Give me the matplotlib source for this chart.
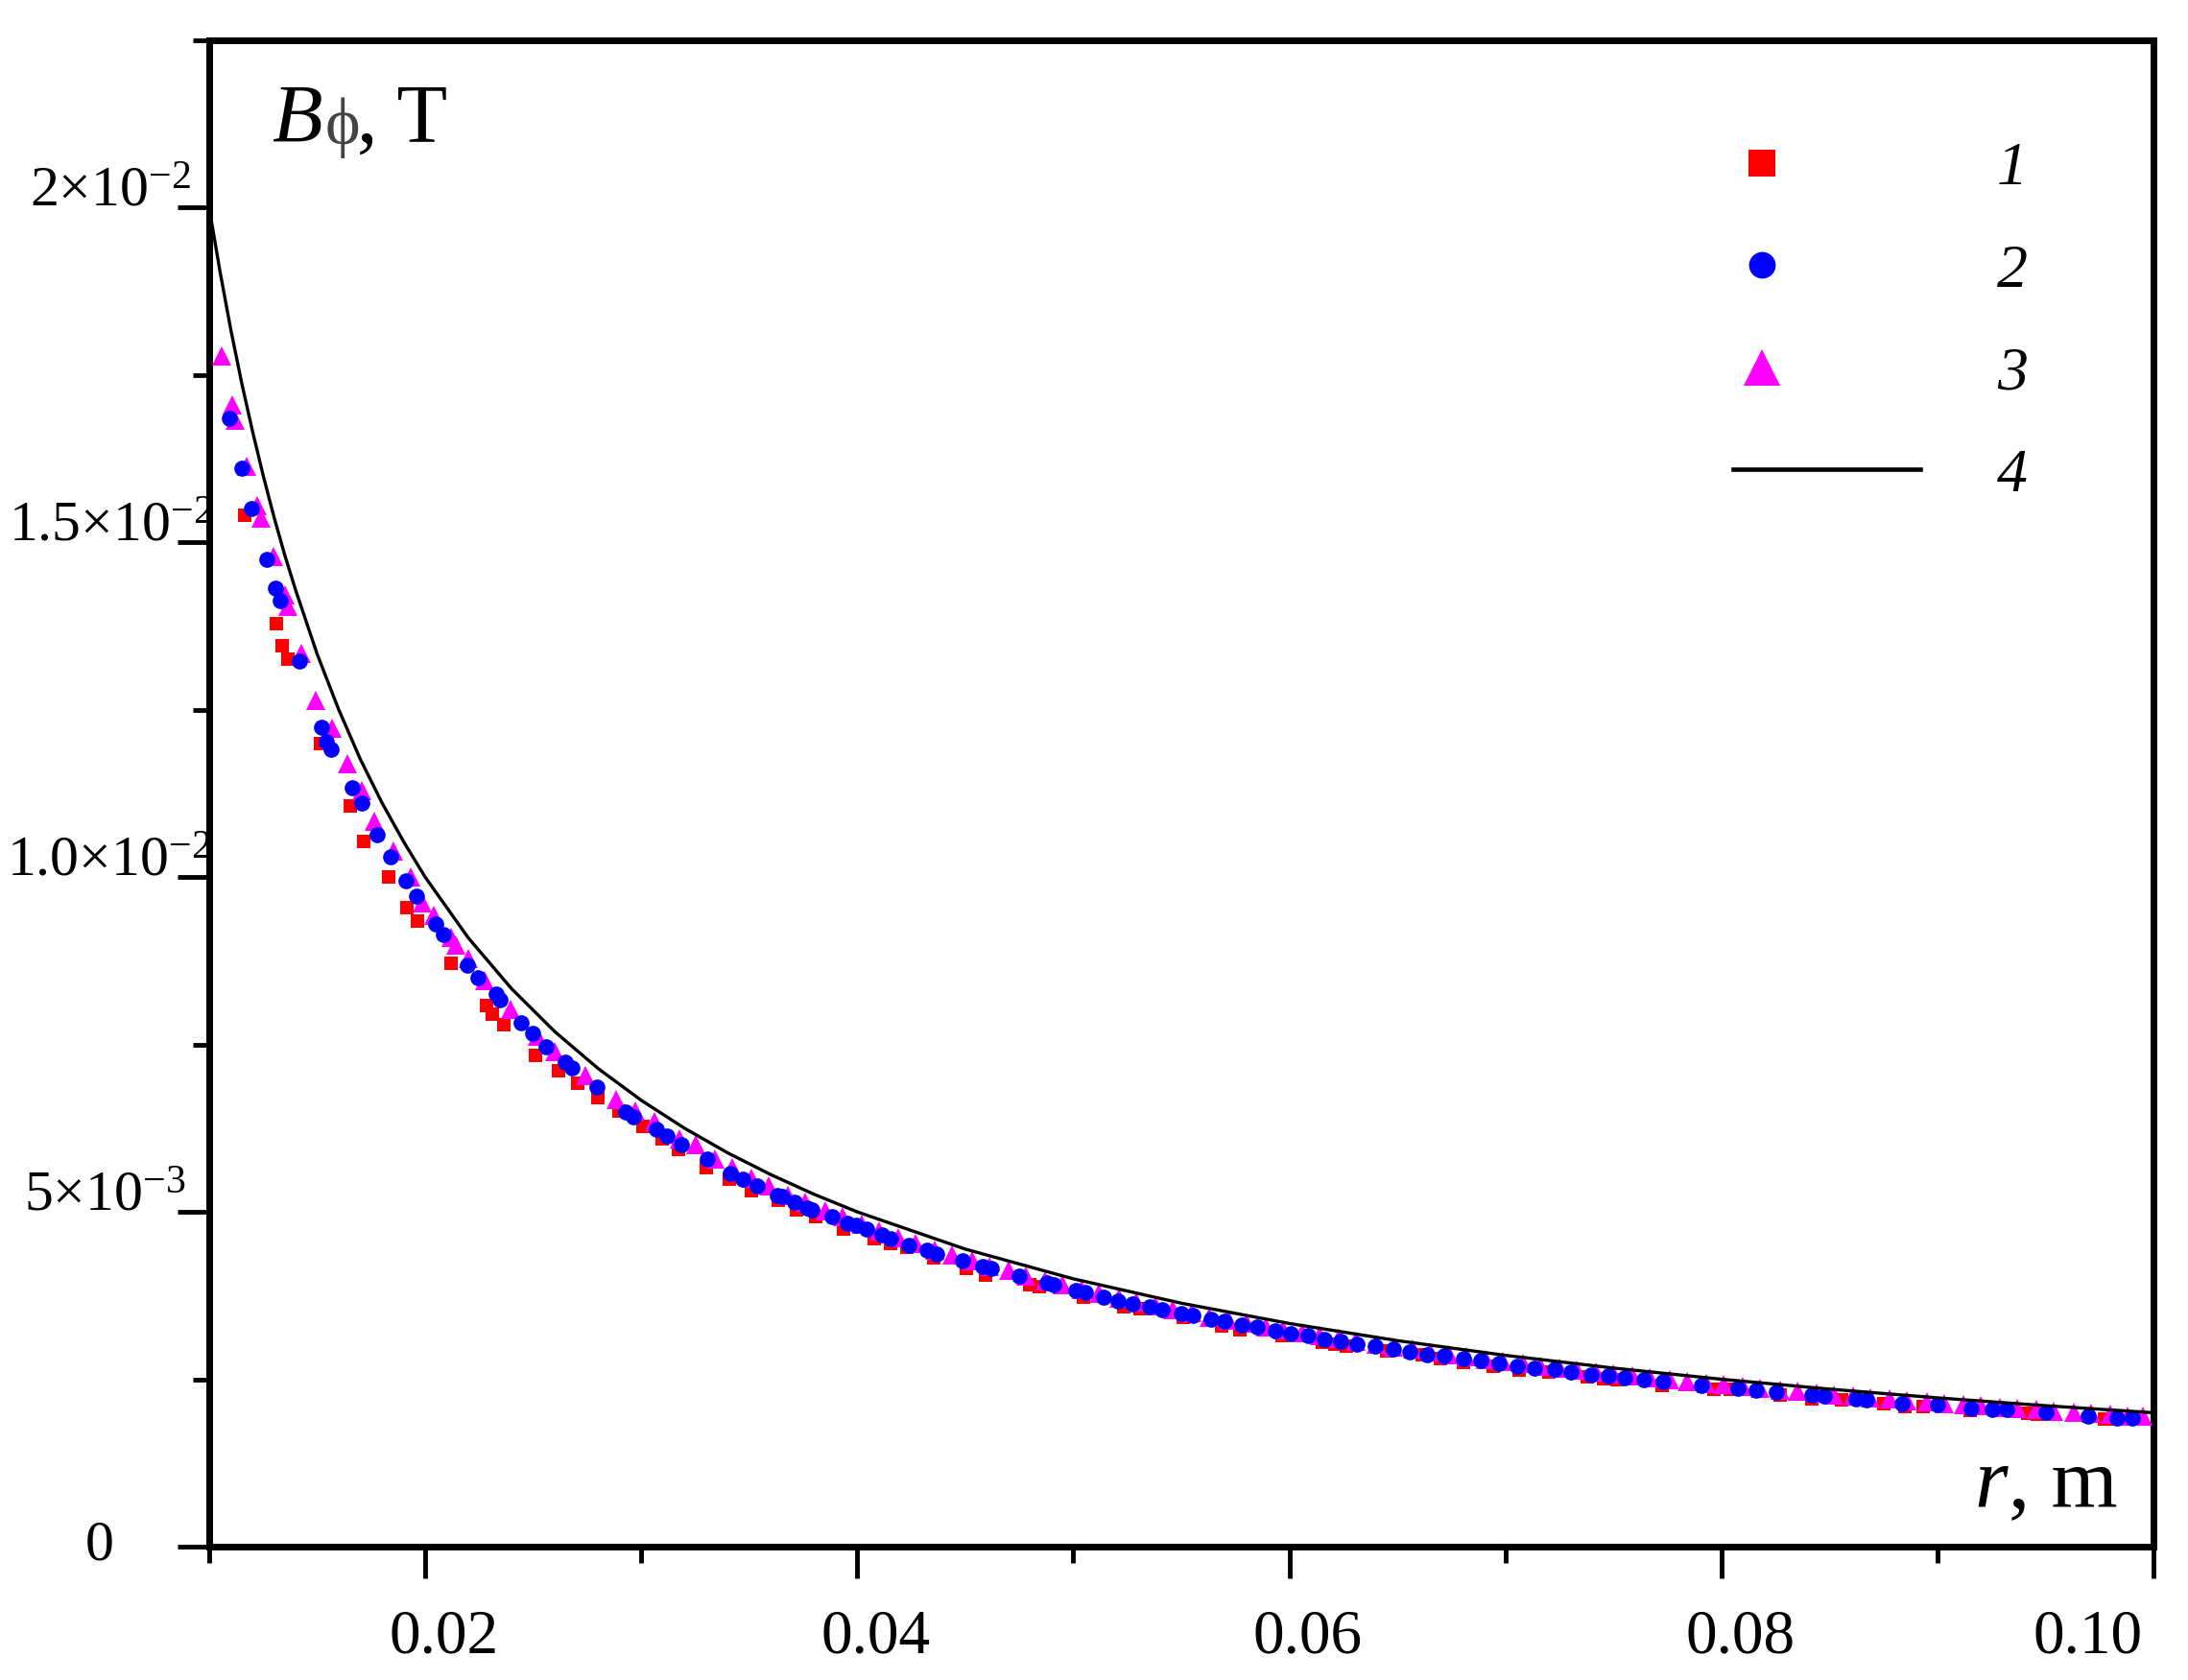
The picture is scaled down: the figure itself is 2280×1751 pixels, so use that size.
import numpy as np
import matplotlib
matplotlib.use("Agg")
import matplotlib.pyplot as plt
from matplotlib.lines import Line2D
from matplotlib.legend_handler import HandlerLine2DCompound
from matplotlib.ticker import MultipleLocator, FixedLocator

plt.rcParams['font.family'] = ['Liberation Serif', 'DejaVu Serif']
plt.rcParams['mathtext.fontset'] = 'custom'
plt.rcParams['mathtext.rm'] = 'Liberation Serif'
plt.rcParams['mathtext.it'] = 'Liberation Serif:italic'

# series 1 (red squares): r in m, B in mT
r1 = [0.01164, 0.01313, 0.01339, 0.01364, 0.01516, 0.01653, 0.01717, 0.01831, 0.01917, 0.01966,
      0.02120, 0.02286, 0.02312, 0.02364, 0.02512, 0.02616, 0.02705, 0.02801, 0.02898, 0.03009,
      0.03098, 0.03172,
      0.03299, 0.03409, 0.03508, 0.03636, 0.03720, 0.03806, 0.03938, 0.04078, 0.04154, 0.04231,
      0.04353, 0.04503, 0.04596, 0.04800, 0.04843, 0.05047, 0.05234, 0.05311, 0.05507, 0.05685,
      0.05770,
      0.05967, 0.06154, 0.06213, 0.06264, 0.06452, 0.06613, 0.06698, 0.06808, 0.06944, 0.07063,
      0.07200, 0.07378, 0.07455, 0.07515, 0.07724, 0.07965, 0.08042, 0.08272,
      0.08417, 0.08557, 0.08754, 0.08849, 0.08932, 0.09152, 0.09420, 0.09461, 0.09773, 0.09815]
B1 = [15.41, 13.78, 13.46, 13.26, 12.00, 11.06, 10.54, 10.01, 9.55, 9.35,
      8.71, 8.08, 7.96, 7.80, 7.34, 7.11, 6.92, 6.71, 6.51, 6.28,
      6.09, 5.94,
      5.666, 5.489, 5.321, 5.168, 5.034, 4.929, 4.738, 4.604, 4.532, 4.470,
      4.317, 4.150, 4.054, 3.911, 3.877, 3.720, 3.576, 3.552, 3.419, 3.289,
      3.242,
      3.146, 3.050, 3.026, 3.002, 2.921, 2.859, 2.811, 2.749, 2.692, 2.635,
      2.606, 2.539, 2.510, 2.491, 2.414, 2.357, 2.348, 2.262,
      2.204, 2.190, 2.142, 2.094, 2.094, 2.032, 1.998, 1.975, 1.903, 1.903]

# series 2 (blue circles)
r2 = [0.01093, 0.01150, 0.01197, 0.01265, 0.01305, 0.01327, 0.01416, 0.01520, 0.01542, 0.01563,
      0.01661, 0.01708, 0.01779, 0.01839, 0.01910, 0.01960, 0.02050, 0.02083, 0.02197, 0.02246,
      0.02327, 0.02345, 0.02446, 0.02498, 0.02561, 0.02646, 0.02680, 0.02794, 0.02927, 0.02964,
      0.03071, 0.03120, 0.03187,
      0.03304, 0.03414, 0.03469, 0.03537, 0.03632, 0.03652, 0.03712, 0.03768, 0.03788, 0.03882,
      0.03955, 0.03993, 0.04044, 0.04112, 0.04154, 0.04239, 0.04324, 0.04367, 0.04486, 0.04580,
      0.04622, 0.04750, 0.04877, 0.04911, 0.05013, 0.05056, 0.05141, 0.05209, 0.05272, 0.05353,
      0.05413, 0.05498, 0.05554, 0.05639, 0.05702, 0.05782,
      0.05853, 0.05936, 0.06006, 0.06086, 0.06162, 0.06239, 0.06315, 0.06397, 0.06480, 0.06557,
      0.06639, 0.06718, 0.06804, 0.06885, 0.06970, 0.07055, 0.07137, 0.07229, 0.07305, 0.07396,
      0.07477, 0.07552, 0.07642, 0.07731, 0.07906, 0.08076, 0.08161, 0.08254,
      0.08417, 0.08475, 0.08623, 0.08672, 0.08836, 0.09001, 0.09157, 0.09256, 0.09321, 0.09502,
      0.09700, 0.09831, 0.09902]
B2 = [16.85, 16.11, 15.50, 14.74, 14.32, 14.13, 13.23, 12.24, 12.02, 11.91,
      11.34, 11.10, 10.64, 10.30, 9.94, 9.71, 9.30, 9.15, 8.68, 8.50,
      8.25, 8.17, 7.83, 7.67, 7.46, 7.24, 7.15, 6.87, 6.49, 6.42,
      6.24, 6.13, 6.01,
      5.790, 5.570, 5.489, 5.383, 5.250, 5.226, 5.140, 5.058, 5.025, 4.925,
      4.834, 4.805, 4.738, 4.662, 4.604, 4.499, 4.427, 4.375, 4.269, 4.183,
      4.150, 4.040, 3.935, 3.911, 3.830, 3.791, 3.720, 3.672, 3.624, 3.576,
      3.543, 3.481, 3.447, 3.399, 3.361, 3.313,
      3.275, 3.227, 3.184, 3.146, 3.098, 3.065, 3.026, 2.988, 2.950, 2.916,
      2.873, 2.845, 2.807, 2.773, 2.740, 2.701, 2.668, 2.644, 2.606, 2.572,
      2.549, 2.524, 2.500, 2.463, 2.405, 2.367, 2.334, 2.300,
      2.261, 2.252, 2.204, 2.190, 2.142, 2.118, 2.070, 2.056, 2.046, 2.013,
      1.951, 1.927, 1.917]

# series 3 (magenta triangles)
r3 = [0.01056, 0.01105, 0.01120, 0.01172, 0.01224, 0.01239, 0.01298, 0.01350, 0.01364, 0.01427,
      0.01493, 0.01567, 0.01641, 0.01705, 0.01764, 0.01853, 0.01935, 0.01987, 0.02039, 0.02120,
      0.02142, 0.02201, 0.02276, 0.02394, 0.02520, 0.02601, 0.02742, 0.02883, 0.02972, 0.03061,
      0.03179, 0.03253,
      0.0334, 0.0342, 0.0351, 0.0359, 0.0368, 0.0376, 0.0385, 0.0393, 0.0402, 0.0410,
      0.0419, 0.0427, 0.0436, 0.0444, 0.0453, 0.0461, 0.0470, 0.0478, 0.0487, 0.0495,
      0.0504, 0.0512, 0.0521, 0.0529, 0.0538, 0.0546, 0.0555, 0.0563, 0.0572, 0.0580,
      0.0589, 0.0597, 0.0606, 0.0614, 0.0623, 0.0631, 0.0640, 0.0648, 0.0657, 0.0665,
      0.0674, 0.0682, 0.0691, 0.0699, 0.0708, 0.0716, 0.0725, 0.0733, 0.0742, 0.0750,
      0.0759, 0.0767, 0.0776, 0.0784, 0.0793, 0.0801, 0.0810, 0.0818, 0.0827, 0.0835,
      0.0844, 0.0852, 0.0861, 0.0869, 0.0878, 0.0886, 0.0895, 0.0903, 0.0912, 0.0920,
      0.0929, 0.0937, 0.0946, 0.0954, 0.0963, 0.0971, 0.0980, 0.0988, 0.0995]
B3 = [17.78, 17.06, 16.83, 16.13, 15.55, 15.36, 14.79, 14.21, 14.05, 13.34,
      12.64, 12.23, 11.70, 11.30, 10.84, 10.39, 10.01, 9.62, 9.43, 9.10,
      8.98, 8.79, 8.45, 8.02, 7.62, 7.40, 7.04, 6.68, 6.50, 6.35,
      6.09, 6.00,
      5.79, 5.66, 5.50, 5.39, 5.25, 5.15, 5.02, 4.93, 4.81, 4.71,
      4.62, 4.53, 4.43, 4.36, 4.27, 4.19, 4.12, 4.04, 3.97, 3.91,
      3.84, 3.78, 3.71, 3.66, 3.59, 3.54, 3.49, 3.43, 3.38, 3.335,
      3.285, 3.24, 3.19, 3.15, 3.105, 3.065, 3.02, 2.985, 2.945, 2.91,
      2.87, 2.835, 2.80, 2.765, 2.73, 2.70, 2.67, 2.64, 2.605, 2.58,
      2.55, 2.52, 2.49, 2.465, 2.44, 2.415, 2.39, 2.365, 2.34, 2.315,
      2.29, 2.27, 2.245, 2.225, 2.205, 2.185, 2.16, 2.14, 2.12, 2.10,
      2.08, 2.065, 2.045, 2.025, 2.01, 1.99, 1.975, 1.955, 1.945]

# curve 4 (black line)
r4 = [0.0100, 0.0105, 0.0110, 0.0115, 0.0120, 0.0125, 0.0130, 0.0135, 0.0140, 0.0150,
      0.0160, 0.0170, 0.0180, 0.0190, 0.0200, 0.0220, 0.0240, 0.0260, 0.0280, 0.0300,
      0.0320, 0.0340, 0.0360, 0.0380, 0.0400, 0.0450, 0.0500, 0.0550, 0.0600, 0.0650,
      0.0700, 0.0750, 0.0800, 0.0850, 0.0900, 0.0950, 0.1000]
B4 = [20.00, 19.05, 18.18, 17.39, 16.67, 16.00, 15.38, 14.81, 14.29, 13.33,
      12.50, 11.76, 11.11, 10.53, 10.00, 9.091, 8.333, 7.692, 7.143, 6.667,
      6.250, 5.882, 5.556, 5.263, 5.000, 4.444, 4.000, 3.636, 3.333, 3.077,
      2.857, 2.667, 2.500, 2.353, 2.222, 2.105, 2.000]

legend_labels = ['1', '2', '3', '4']
ytick_vals = [0.0, 0.005, 0.010, 0.015, 0.020]
ytick_labels = ['0', r'$5{\times}10^{-3}$', r'$1.0{\times}10^{-2}$',
                r'$1.5{\times}10^{-2}$', r'$2{\times}10^{-2}$']
xtick_vals = [0.02, 0.04, 0.06, 0.08, 0.10]
xtick_labels = ['0.02', '0.04', '0.06', '0.08', '0.10']

red, blue, magenta = '#ff0000', '#0000ff', '#ff00ff'

fig = plt.figure(figsize=(22.8, 17.51), dpi=100)
ax = fig.add_axes([0.0956, 0.0794, 0.8886, 0.8966])

ax.plot(r1, np.array(B1) * 1e-3, 's', color=red, ms=10, mew=0, zorder=3)
ax.plot(r3, np.array(B3) * 1e-3, '^', color=magenta, ms=14, mew=0, zorder=4)
ax.plot(r2, np.array(B2) * 1e-3, 'o', color=blue, ms=12, mew=0, zorder=5)
ax.plot(r4, np.array(B4) * 1e-3, '-', color='black', lw=2.4, zorder=6)

ax.set_xlim(0.01, 0.10)
ax.set_ylim(0, 0.0225)

for sp in ax.spines.values():
    sp.set_linewidth(5.0)

ax.xaxis.set_major_locator(FixedLocator(xtick_vals))
ax.xaxis.set_minor_locator(MultipleLocator(0.01))
ax.yaxis.set_major_locator(FixedLocator(ytick_vals))
ax.yaxis.set_minor_locator(MultipleLocator(0.0025))
ax.tick_params(which='major', direction='out', length=24, width=3.5)
ax.tick_params(which='minor', direction='out', length=12, width=3.5)
ax.tick_params(labelleft=False, labelbottom=False)

# x tick labels: a bit right of their ticks, the last one kept inside
for val, lab in zip(xtick_vals, xtick_labels):
    dx = -49 if val == xtick_vals[-1] else 14
    ax.annotate(lab, xy=(val, 0), xycoords=('data', 'axes fraction'),
                xytext=(dx, -47), textcoords='offset points',
                ha='center', va='top', fontsize=47, annotation_clip=False)

# y tick labels sit above their ticks, centred in the margin
ylab_dx = [-82, -78, -75, -74, -74]
for val, lab, dx in zip(ytick_vals, ytick_labels, ylab_dx):
    ax.annotate(lab, xy=(0, val), xycoords=('axes fraction', 'data'),
                xytext=(dx, 0 if val == 0 else 1), textcoords='offset points',
                ha='center', va='center' if val == 0 else 'baseline',
                fontsize=43, annotation_clip=False)

# axis titles inside the frame
tb = ax.text(0.032, 0.933, 'B', transform=ax.transAxes, fontsize=62,
             style='italic', va='baseline')
tphi = ax.annotate('\u03d5', xy=(1, 0), xycoords=tb, xytext=(2, 0.6),
                   textcoords='offset points', fontsize=50, va='bottom',
                   color='#444444')
ax.annotate(', T', xy=(1, 0), xycoords=tphi, xytext=(-2, -0.6),
            textcoords='offset points', fontsize=62, va='bottom')

tm = ax.text(0.9817, 0.0268, ', m', transform=ax.transAxes, fontsize=64,
             ha='right', va='baseline')
ax.annotate('r', xy=(0, 0), xycoords=tm, xytext=(-1, 0),
            textcoords='offset points', fontsize=64, style='italic',
            ha='right', va='bottom')


class LeftMarkerHandler(HandlerLine2DCompound):
    def get_xdata(self, legend, xdescent, ydescent, width, height, fontsize):
        xdata = np.array([-xdescent, -xdescent + width])
        return xdata, np.array([-xdescent + 0.15 * width])


handles = [
    Line2D([], [], marker='s', color=red, ls='none', ms=20, mew=0),
    Line2D([], [], marker='o', color=blue, ls='none', ms=20, mew=0),
    Line2D([], [], marker='^', color=magenta, ls='none', ms=27, mew=0),
    Line2D([], [], color='black', lw=3.3),
]
leg = ax.legend(handles, legend_labels, loc='upper left',
                bbox_to_anchor=(0.784, 0.933), frameon=False, borderpad=0,
                borderaxespad=0, handlelength=3.05, handletextpad=1.25,
                labelspacing=0.75, prop={'size': 46, 'style': 'italic'},
                handler_map={Line2D: LeftMarkerHandler()})

fig.savefig('out.png', dpi=100)
